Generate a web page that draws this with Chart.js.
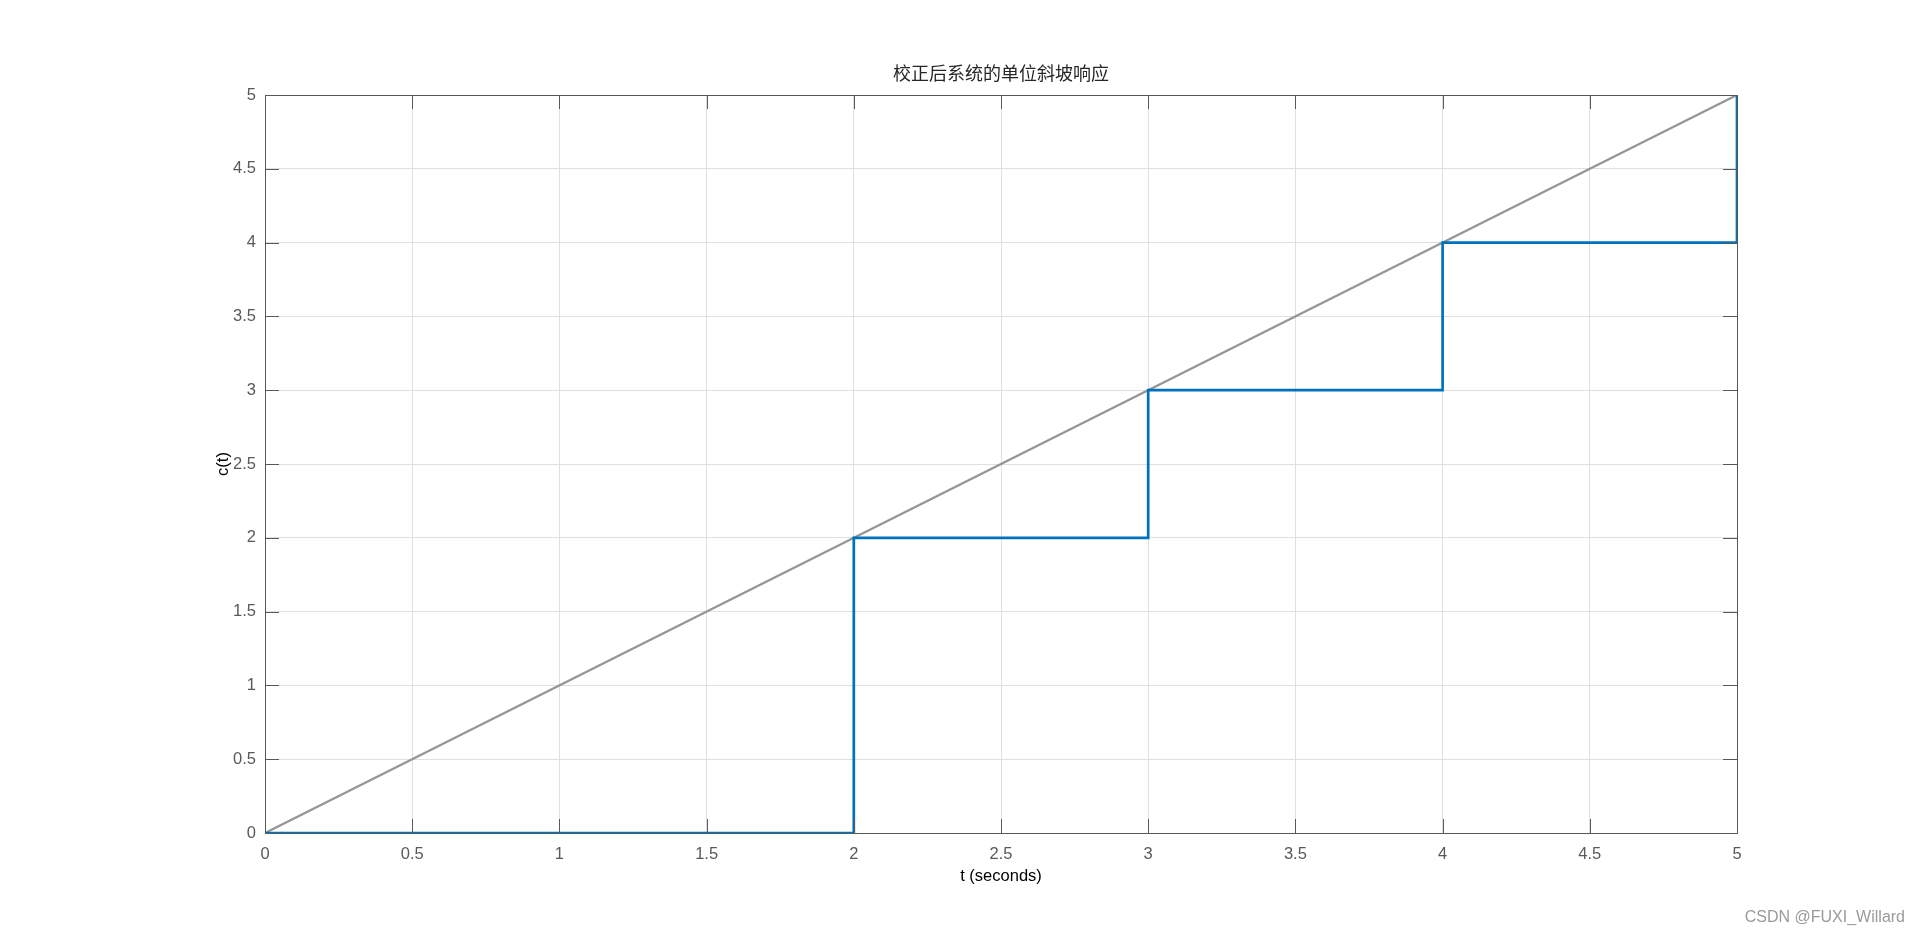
<!DOCTYPE html>
<html>
<head>
<meta charset="utf-8">
<script src="https://cdn.jsdelivr.net/npm/chart.js@4/dist/chart.umd.min.js"></script>
<style>
  html, body { margin: 0; padding: 0; background: #fff; }
  #wrap { width: 1920px; height: 937px; position: relative; }
</style>
</head>
<body>
<div id="wrap"><canvas id="mycanvas"></canvas></div>
<script>
// step response samples (t, c) and the unit ramp input
var stepT = [0, 2, 3, 4, 5];
var stepC = [0, 2, 3, 4, 5];
var rampT = [0, 5];
var rampC = [0, 5];

var xTicks = [0, 0.5, 1, 1.5, 2, 2.5, 3, 3.5, 4, 4.5, 5];
var yTicks = [0, 0.5, 1, 1.5, 2, 2.5, 3, 3.5, 4, 4.5, 5];
var xTickLabels = ['0', '0.5', '1', '1.5', '2', '2.5', '3', '3.5', '4', '4.5', '5'];
var yTickLabels = ['0', '0.5', '1', '1.5', '2', '2.5', '3', '3.5', '4', '4.5', '5'];

var titleText = '校正后系统的单位斜坡响应';
var xLabel = 't (seconds)';
var yLabel = 'c(t)';
var watermark = 'CSDN @FUXI_Willard';

var axisColor = '#595959';
var tickFont = { family: 'Liberation Sans, Arial, sans-serif', size: 16.5 };

function toPoints(xs, ys) {
    var pts = [];
    for (var i in xs) {
        pts.push({ x: xs[i], y: ys[i] });
    }
    return pts;
}

// box around the axes plus inward tick marks on all four sides (MATLAB style)
var boxTicks = {
    id: 'boxTicks',
    afterDraw: function (chart) {
        var ctx = chart.ctx;
        var a = chart.chartArea;
        var xs = chart.scales.x, ys = chart.scales.y;
        var len = 14;
        ctx.save();
        ctx.strokeStyle = axisColor;
        ctx.lineWidth = 1;
        ctx.strokeRect(Math.round(a.left) + 0.5, Math.round(a.top) + 0.5,
            Math.round(a.right - a.left), Math.round(a.bottom - a.top));
        ctx.beginPath();
        xTicks.forEach(function (v) {
            var px = Math.round(xs.getPixelForValue(v)) + 0.5;
            ctx.moveTo(px, a.bottom); ctx.lineTo(px, a.bottom - len);
            ctx.moveTo(px, a.top); ctx.lineTo(px, a.top + len);
        });
        yTicks.forEach(function (v) {
            var py = Math.round(ys.getPixelForValue(v)) + 0.5;
            ctx.moveTo(a.left, py); ctx.lineTo(a.left + len, py);
            ctx.moveTo(a.right, py); ctx.lineTo(a.right - len, py);
        });
        ctx.stroke();

        ctx.fillStyle = '#9a9a9a';
        ctx.font = '16px "Liberation Sans", Arial, sans-serif';
        ctx.textAlign = 'right';
        ctx.textBaseline = 'middle';
        ctx.fillText(watermark, chart.width - 15, 918);
        ctx.restore();
    }
};

var ctx = document.getElementById('mycanvas');

var mycanvas = new Chart(ctx, {
    type: 'line',
    data: {
        datasets: [
            {
                label: 'c(t)',
                data: toPoints(stepT, stepC),
                borderColor: '#0072BD',
                borderWidth: 2.7,
                stepped: 'before',
                pointRadius: 0,
                fill: false,
                order: 0
            },
            {
                label: 'ramp',
                data: toPoints(rampT, rampC),
                borderColor: '#969696',
                borderWidth: 2.3,
                pointRadius: 0,
                fill: false,
                order: 1
            }
        ]
    },
    options: {
        responsive: true,
        maintainAspectRatio: false,
        animation: false,
        events: [],
        layout: {
            padding: { left: 200, right: 183, top: 0, bottom: 44 }
        },
        plugins: {
            legend: { display: false },
            tooltip: { enabled: false },
            title: {
                display: true,
                text: titleText,
                fullSize: false,
                color: '#262626',
                font: { family: '"Noto Sans CJK SC", sans-serif', size: 18, weight: 'normal', lineHeight: 1.2 },
                padding: { top: 62, bottom: 11.4 }
            }
        },
        scales: {
            x: {
                type: 'linear',
                min: 0,
                max: 5,
                afterBuildTicks: function (s) {
                    s.ticks = xTicks.map(function (v) { return { value: v }; });
                },
                afterFit: function (s) { s.height = 60; },
                ticks: {
                    color: axisColor,
                    font: tickFont,
                    padding: 12,
                    maxRotation: 0,
                    callback: function (v, i) { return xTickLabels[i]; }
                },
                grid: { color: '#e0e0e0', drawTicks: false },
                border: { display: false },
                title: {
                    display: true,
                    text: xLabel,
                    color: '#000',
                    font: { family: 'Liberation Sans, Arial, sans-serif', size: 16.5, lineHeight: 1.2 },
                    padding: { top: 0, bottom: 7 }
                }
            },
            y: {
                type: 'linear',
                min: 0,
                max: 5,
                afterBuildTicks: function (s) {
                    s.ticks = yTicks.map(function (v) { return { value: v }; });
                },
                afterFit: function (s) { s.width = 65; },
                ticks: {
                    color: axisColor,
                    font: tickFont,
                    padding: 9,
                    callback: function (v, i) { return yTickLabels[i]; }
                },
                grid: { color: '#e0e0e0', drawTicks: false },
                border: { display: false },
                title: {
                    display: true,
                    text: yLabel,
                    color: '#000',
                    font: { family: 'Liberation Sans, Arial, sans-serif', size: 16.5, lineHeight: 1.2 },
                    padding: { top: 14, bottom: 0 }
                }
            }
        }
    },
    plugins: [boxTicks]
});
</script>
</body>
</html>
